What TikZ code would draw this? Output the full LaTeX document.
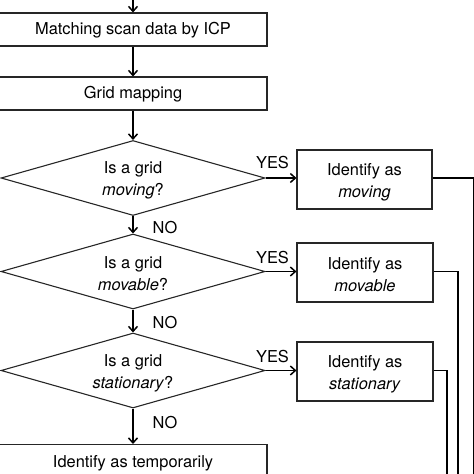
\documentclass[tikz,border=0pt]{standalone}
\usepackage{fontspec}
\setmainfont{TeX Gyre Heros}
\usetikzlibrary{shapes.geometric,arrows.meta}
\begin{document}
\begin{tikzpicture}[x=1pt,y=-1pt,
  font=\fontsize{16.4}{22}\selectfont,
  box/.style={draw=black!85,line width=1.1pt,rectangle,inner sep=0pt,align=center},
  side/.style={box,minimum width=136pt,minimum height=59pt,yshift=0pt},
  decision/.style={draw=black!85,line width=1.1pt,diamond,aspect=3.52,inner sep=0pt,
     minimum width=264pt,minimum height=75pt,align=center},
  flow/.style={line width=1.5pt,-{Straight Barb[length=5pt,width=9pt]}},
  link/.style={line width=1.5pt},
  lbl/.style={inner sep=0pt}]
\useasboundingbox (0,0) rectangle (474,474);
\clip (0,0) rectangle (474,474);
% main column
\coordinate (start) at (133,-5);
\node[box,minimum width=268pt,minimum height=33pt,text depth=2pt] (icp) at (133,29.5) {Matching scan data by ICP};
\node[box,minimum width=268pt,minimum height=33pt,text depth=2pt] (grid) at (133,93.5) {Grid mapping};
\node[decision] (d1) at (133,178) {\rule{0pt}{17pt}Is a grid\\\textit{moving}?};
\node[decision] (d2) at (133,271.5) {\rule{0pt}{17pt}Is a grid\\\textit{movable}?};
\node[decision] (d3) at (133,370.5) {\rule{0pt}{17pt}Is a grid\\\textit{stationary}?};
\node[box,anchor=north,minimum width=268pt,text height=23pt,text depth=40pt] (temp) at (133,444) {Identify as temporarily};
% right column
\node[side,minimum width=135pt] (ra) at (364.5,179.5) {\rule{0pt}{17pt}Identify as\\\textit{moving}};
\node[side] (rb) at (365,272.5) {\rule{0pt}{17pt}Identify as\\\textit{movable}};
\node[side] (rc) at (365,371.5) {\rule{0pt}{17pt}Identify as\\\textit{stationary}};
% connectors
\draw[flow] (start) -- (icp);
\draw[flow] (icp) -- (grid);
\draw[flow] (grid) -- (d1);
\draw[flow] (d1) -- (d2);
\draw[flow] (d2) -- (d3);
\draw[flow] (d3) -- (temp);
\draw[flow] (d1.east) -- (ra.west |- d1.east);
\draw[flow] (d2.east) -- (rb.west |- d2.east);
\draw[flow] (d3.east) -- (rc.west |- d3.east);
\coordinate (ea) at (473.5,480);
\coordinate (eb) at (458,480);
\coordinate (ec) at (447,480);
\draw[link] (ra.east |- d1.east) -| (ea);
\draw[link] (rb.east |- d2.east) -| (eb);
\draw[link] (rc.east |- d3.east) -| (ec);
% labels
\node[lbl] (y1) at (272.5,163) {YES};
\node[lbl] (y2) at (272.5,258) {YES};
\node[lbl] (y3) at (272.5,357) {YES};
\node[lbl] (n1) at (165,228) {NO};
\node[lbl] (n2) at (165,323) {NO};
\node[lbl] (n3) at (165,423) {NO};
\end{tikzpicture}
\end{document}
